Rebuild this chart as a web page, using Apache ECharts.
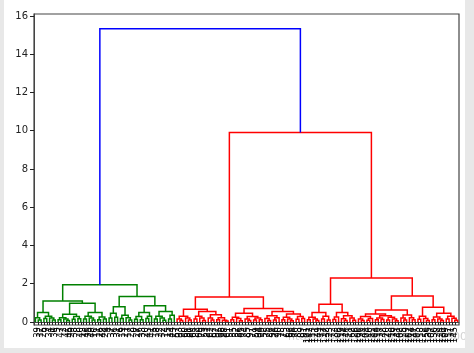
<!DOCTYPE html>
<html lang="en">
<head>
<meta charset="UTF-8">
<title>dendrogram</title>
<script src="https://cdn.jsdelivr.net/npm/echarts@6/dist/echarts.min.js"></script>
<style>
    body { margin: 0; background: #e8e8e8; }
    #container { position: absolute; left: 4px; top: 0; width: 461px; height: 348px; background: #fff; }
</style>
</head>
<body>
<div id="container"></div>
<script>
    // clusters as nested [height, left, right], leaves are sample ids
    var greenA = [0.49, [0.22, 7, [0.1, 39, 12]], [0.3, [0.18, 25, 9], [0.2, 34, [0.1, 1, 30]]]];
    var greenB = [0.4, [0.22, [0.12, 3, 47], [0.15, 2, [0.08, 42, 45]]], [0.28, [0.14, 29, 38], [0.17, 8, 40]]];
    var greenC = [0.5, [0.3, [0.15, 13, 46], [0.2, 35, [0.1, 49, 10]]], [0.26, [0.12, 11, 26], [0.16, 48, 24]]];
    var greenD = [0.8, [0.45, [0.2, 4, 37], [0.25, 36, 31]], [0.35, [0.18, 6, 19], [0.22, 21, [0.1, 17, 28]]]];
    var greenE = [0.5, [0.28, [0.14, 0, 27], [0.12, 16, 33]], [0.3, [0.18, 20, 43], 41]];
    var greenF = [0.55, [0.3, [0.15, 5, 18], [0.2, 22, [0.09, 32, 14]]], [0.35, [0.16, 15, 44], 23]];

    var redA = [0.3, [0.15, 57, [0.07, 93, 98]], [0.2, 60, [0.1, 81, 80]]];
    var redB = [0.55, [0.3, [0.16, 64, 82], [0.2, 69, [0.08, 79, 53]]], [0.38, [0.2, 87, [0.1, 62, 67]], [0.22, [0.12, 92, 95], [0.09, 96, [0.05, 88, 61]]]]];
    var redC = [0.45, [0.24, [0.12, 51, 55], [0.18, 52, [0.06, 56, 65]]], [0.28, [0.15, 74, [0.07, 85, 97]], [0.2, [0.1, 71, 59], [0.12, 94, 99]]]];
    var redD = [0.55, [0.32, [0.18, 58, [0.08, 75, 86]], [0.22, [0.1, 54, 76], 90]], [0.42, [0.25, [0.12, 78, 73], [0.15, 63, [0.06, 66, 84]]], [0.28, [0.14, 70, 83], [0.18, 89, 91]]]];
    var redE = [0.49, [0.25, [0.12, 101, 142], [0.15, 113, [0.07, 121, 149]]], [0.3, [0.16, 77, 127], [0.1, 138, 123]]];
    var redF = [0.5, [0.26, [0.13, 72, 133], 106], [0.33, [0.17, 119, [0.08, 134, 146]], [0.2, 111, [0.09, 68, 126]]]];
    var redG = [0.42, [0.28, [0.15, 100, [0.07, 136, 144]], [0.18, [0.09, 104, 140], 112]], [0.32, [0.2, [0.11, 103, 116], [0.13, 137, 148]], [0.24, [0.1, 120, 143], [0.16, 110, [0.06, 139, 141]]]]];
    var redH = [0.36, [0.2, 108, [0.1, 125, 129]], [0.22, 102, [0.11, 114, 147]]];
    var redI = [0.3, [0.14, 105, 118], [0.18, 122, [0.08, 50, 135]]];
    var redJ = [0.45, [0.26, [0.12, 107, 130], [0.16, 128, [0.07, 124, 132]]], [0.3, [0.15, 109, 117], [0.19, 131, [0.09, 145, 115]]]];

    var greenTree = [1.95, [1.10, greenA, [0.98, greenB, greenC]], [1.33, greenD, [0.85, greenE, greenF]]];
    var redTree = [9.9, [1.30, [0.66, redA, redB], [0.70, redC, redD]],
                        [2.30, [0.93, redE, redF], [1.36, [0.63, redG, redH], [0.77, redI, redJ]]]];
    var rootHeight = 15.33;

    var yTicks = [0, 2, 4, 6, 8, 10, 12, 14, 16];

    // walk the tree the way scipy lays it out: leaves at 5, 15, 25 ...
    var leafOrder = [], links = [];
    function walk(node, color) {
        if (typeof node === 'number') {
            var x = leafOrder.length * 10 + 5;
            leafOrder.push(node);
            return [x, 0];
        }
        var l = walk(node[1], color), r = walk(node[2], color);
        links.push({
            coords: [[l[0], l[1]], [l[0], node[0]], [r[0], node[0]], [r[0], r[1]]],
            lineStyle: { color: color }
        });
        return [(l[0] + r[0]) / 2, node[0]];
    }
    var g = walk(greenTree, '#008000');
    var r = walk(redTree, '#ff0000');
    links.push({
        coords: [[g[0], g[1]], [g[0], rootHeight], [r[0], rootHeight], [r[0], r[1]]],
        lineStyle: { color: '#0000ff' }
    });

    var leafX = [], labelAt = {};
    leafOrder.forEach(function (id, i) {
        leafX.push(i * 10 + 5);
        labelAt[i * 10 + 5] = String(id);
    });

    var myChart = echarts.init(document.getElementById('container'));
    var option = {
        animation: false,
        textStyle: { fontFamily: 'DejaVu Sans' },
        grid: {
            left: 30, right: 6, top: 14, bottom: 23,
            show: true, borderColor: '#444', borderWidth: 1.2
        },
        xAxis: {
            type: 'value',
            min: 0,
            max: leafOrder.length * 10,
            splitLine: { show: false },
            axisLine: { show: true, lineStyle: { color: '#444' } },
            axisTick: { customValues: leafX, length: 3, lineStyle: { color: '#222' } },
            axisLabel: {
                customValues: leafX,
                formatter: function (v) { return labelAt[v] || ''; },
                rotate: 90,
                fontSize: 8.5,
                color: '#000',
                margin: 2
            }
        },
        yAxis: {
            type: 'value',
            min: -0.16,
            max: 16.1,
            splitLine: { show: false },
            axisLine: { show: true, lineStyle: { color: '#444' } },
            axisTick: { customValues: yTicks, length: 4, lineStyle: { color: '#222' } },
            axisLabel: { customValues: yTicks, fontSize: 10, color: '#222', margin: 6 }
        },
        graphic: [{
            type: 'text',
            left: 284,
            top: 332,
            style: {
                text: 'https://blog.csdn.net/qq_37290066',
                fill: 'rgba(205,205,205,0.9)',
                fontSize: 11,
                fontFamily: 'DejaVu Sans'
            }
        }],
        series: [{
            type: 'lines',
            coordinateSystem: 'cartesian2d',
            polyline: true,
            silent: true,
            lineStyle: { width: 1.5, opacity: 1 },
            data: links
        }]
    };
    myChart.setOption(option);
</script>
</body>
</html>
